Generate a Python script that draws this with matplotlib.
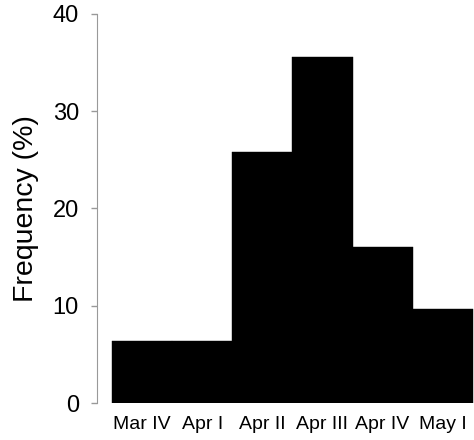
import matplotlib
matplotlib.use("Agg")
import matplotlib.pyplot as plt

categories = ["Mar IV", "Apr I", "Apr II", "Apr III", "Apr IV", "May I"]
frequency = [6.4, 6.4, 25.8, 35.6, 16.0, 9.7]
yticks = [0, 10, 20, 30, 40]

plt.rcParams['font.family'] = ['Liberation Sans', 'DejaVu Sans']

fig = plt.figure(figsize=(4.74, 4.40), dpi=100)
ax = fig.add_axes([97/474, 37/440, 377/474, 389/440])
x = list(range(len(categories)))
ax.bar(x, frequency, width=1.0, color='black', edgecolor='black', linewidth=0.3)
ax.set_xlim(-0.75, 5.52)
ax.set_ylim(0, 40)
ax.set_yticks(yticks)
ax.set_xticks(x)
ax.set_xticklabels(categories, fontsize=14)
ax.tick_params(axis='x', length=0, pad=9)
ax.tick_params(axis='y', labelsize=17, length=4, color='#999999', width=1, pad=9)
for s in ['top', 'right', 'bottom']:
    ax.spines[s].set_visible(False)
ax.spines['left'].set_color('#999999')
ax.set_ylabel("Frequency (%)", fontsize=20.5, labelpad=10)
fig.savefig("out.png", dpi=100)
